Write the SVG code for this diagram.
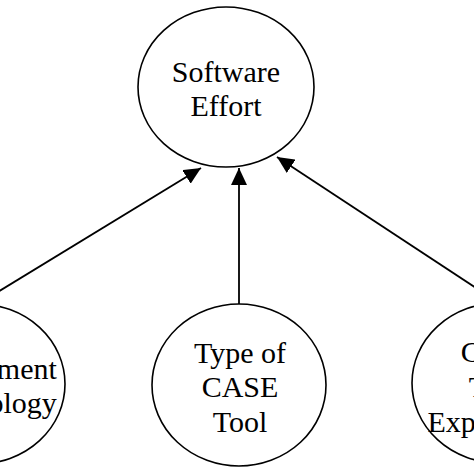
<svg xmlns="http://www.w3.org/2000/svg" width="474" height="474" viewBox="0 0 474 474">
<defs>
<style>
.node{fill:#fff;stroke:#000;stroke-width:1.6}
.lbl{font-family:"Liberation Serif","Times New Roman",serif;font-size:30px;fill:#000;text-anchor:middle}
.edge{stroke:#000;stroke-width:1.8;fill:none}
</style>
<marker id="ah" viewBox="0 0 17 16" refX="17" refY="8" markerWidth="17" markerHeight="16" markerUnits="userSpaceOnUse" orient="auto">
<path d="M0,0 L17,8 L0,16 Z" fill="#000"/>
</marker>
</defs>
<rect width="474" height="474" fill="#fff"/>
<g id="connectors">
<line class="edge" x1="-22" y1="304" x2="201" y2="168" marker-end="url(#ah)"/>
<line class="edge" x1="239" y1="304" x2="239" y2="168" marker-end="url(#ah)"/>
<line class="edge" x1="499" y1="303" x2="277" y2="157" marker-end="url(#ah)"/>
</g>
<g id="software-effort">
<ellipse class="node" cx="226" cy="87" rx="88" ry="80"/>
<text class="lbl" x="226" y="82">Software</text>
<text class="lbl" x="226" y="116">Effort</text>
</g>
<g id="development-methodology">
<ellipse class="node" cx="-22" cy="384" rx="87" ry="80"/>
<text class="lbl" x="-24" y="379">Development</text>
<text class="lbl" x="-24" y="413">Methodology</text>
</g>
<g id="type-of-case-tool">
<ellipse class="node" cx="239" cy="385" rx="87" ry="81"/>
<text class="lbl" x="240" y="363">Type of</text>
<text class="lbl" x="240" y="397">CASE</text>
<text class="lbl" x="240" y="432">Tool</text>
</g>
<g id="case-tool-experience">
<ellipse class="node" cx="499" cy="383" rx="87" ry="80"/>
<text class="lbl" x="499" y="362">CASE</text>
<text class="lbl" x="496" y="397">Tool</text>
<text class="lbl" x="495" y="432">Experience</text>
</g>
</svg>
